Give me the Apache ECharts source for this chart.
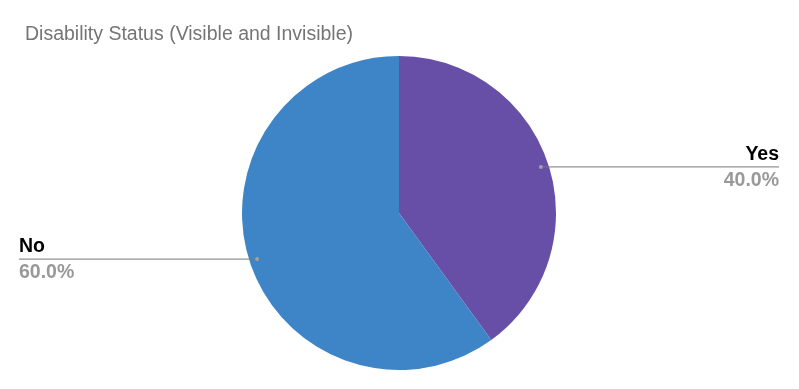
<!DOCTYPE html>
<html>
<head>
<meta charset="utf-8">
<script src="https://cdn.jsdelivr.net/npm/echarts@6/dist/echarts.min.js"></script>
<style>
html,body{margin:0;padding:0;background:#fff;}
#chart{width:799px;height:389px;}
</style>
</head>
<body>
<div id="chart"></div>
<script>
const titleText = 'Disability Status (Visible and Invisible)';
const categories = ['Yes', 'No'];
const values = [40, 60];
const colors = ['#674ea7', '#3d85c6'];

const chart = echarts.init(document.getElementById('chart'), null, {renderer: 'canvas'});
const CX = 399, CY = 213, R = 157;
const total = values.reduce((a, b) => a + b, 0);
const W = 799;

function midPoint(i) {
  let before = 0;
  for (let k = 0; k < i; k++) before += values[k];
  const frac = (before + values[i] / 2) / total;
  const ang = frac * 2 * Math.PI; // clockwise from top
  const r = R * 0.95;
  return [CX + r * Math.sin(ang), CY - r * Math.cos(ang)];
}
function edgeX(i) {
  return midPoint(i)[0] > CX ? W - 20 : 19;
}

const graphics = [];
categories.forEach((c, i) => {
  const p = midPoint(i);
  graphics.push({
    type: 'line', z: 100, silent: true,
    shape: {x1: p[0], y1: p[1], x2: edgeX(i), y2: p[1]},
    style: {stroke: '#777777', lineWidth: 1}
  });
  graphics.push({
    type: 'circle', z: 101, silent: true,
    shape: {cx: p[0], cy: p[1], r: 2},
    style: {fill: '#a0a0a0'}
  });
});

chart.setOption({
  animation: false,
  title: {
    text: titleText,
    left: 20,
    top: 20,
    textStyle: {fontFamily: 'Liberation Sans, Arial, sans-serif', fontSize: 19.5, fontWeight: 'normal', color: '#757575'}
  },
  graphic: graphics,
  series: [{
    type: 'pie',
    center: [CX, CY],
    radius: R,
    startAngle: 90,
    clockwise: true,
    data: categories.map((c, i) => ({name: c, value: values[i], itemStyle: {color: colors[i]}})),
    label: {
      show: true,
      formatter: p => '{n|' + p.name + '}\n{p|' + p.percent.toFixed(1) + '%}',
      rich: {
        n: {fontFamily: 'Liberation Sans, Arial, sans-serif', fontSize: 19.5, fontWeight: 'bold', color: '#000', lineHeight: 26},
        p: {fontFamily: 'Liberation Sans, Arial, sans-serif', fontSize: 19.5, fontWeight: 'bold', color: '#999999', lineHeight: 26}
      }
    },
    labelLine: {show: false},
    labelLayout: function (params) {
      const i = params.dataIndex;
      const p = midPoint(i);
      const right = p[0] > CX;
      return {
        x: edgeX(i),
        y: p[1] + 1,
        align: right ? 'right' : 'left',
        verticalAlign: 'middle'
      };
    }
  }]
});
</script>
</body>
</html>
